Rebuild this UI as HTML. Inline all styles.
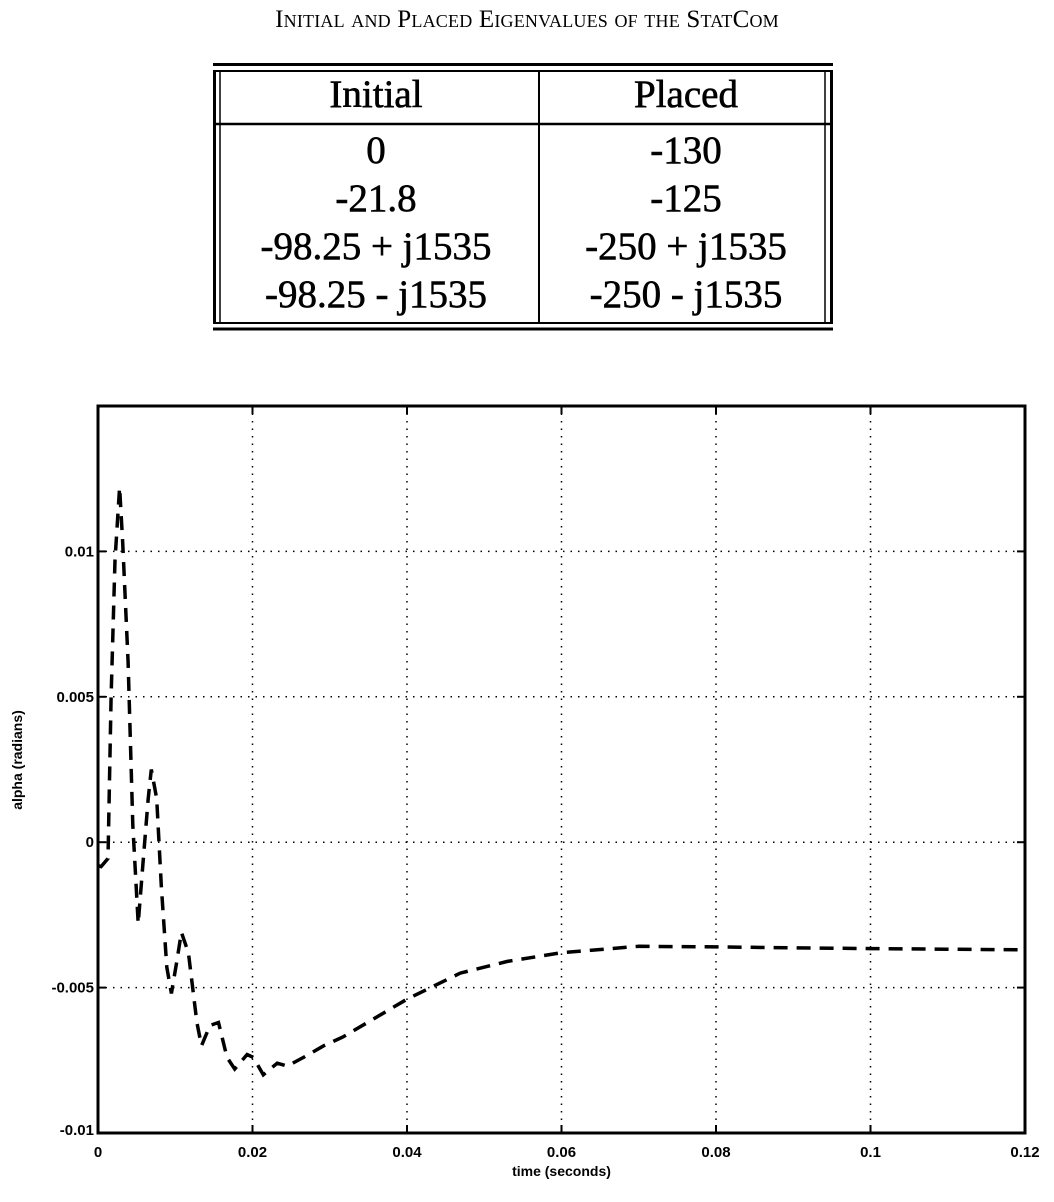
<!DOCTYPE html>
<html><head><meta charset="utf-8"><style>
body{margin:0;width:1054px;height:1202px;background:#fff;position:relative;overflow:hidden;font-family:"Liberation Serif",serif}
#title{position:absolute;top:6px;left:0;width:1054px;text-align:center;font-size:25px;font-variant:small-caps;letter-spacing:0.2px}
#tbl{position:absolute;left:213px;top:63px;width:620px;height:268px}
.cell{position:absolute;text-align:center;font-size:39px;line-height:40px;-webkit-text-stroke:0.6px #000}
</style></head><body>
<div id="title">Initial and Placed Eigenvalues of the StatCom</div>
<div id="tbl">
<svg width="620" height="268" style="position:absolute;left:0;top:0">
<line x1="0" y1="1.5" x2="620" y2="1.5" stroke="#000" stroke-width="3"/>
<line x1="0" y1="8" x2="620" y2="8" stroke="#000" stroke-width="2"/>
<line x1="1.5" y1="8" x2="1.5" y2="260" stroke="#000" stroke-width="3"/>
<line x1="7" y1="8" x2="7" y2="260" stroke="#000" stroke-width="1.5"/>
<line x1="618.5" y1="8" x2="618.5" y2="260" stroke="#000" stroke-width="3"/>
<line x1="612" y1="8" x2="612" y2="260" stroke="#000" stroke-width="1.5"/>
<line x1="326" y1="8" x2="326" y2="260" stroke="#000" stroke-width="2"/>
<line x1="0" y1="61" x2="620" y2="61" stroke="#000" stroke-width="2.5"/>
<line x1="0" y1="260" x2="620" y2="260" stroke="#000" stroke-width="2"/>
<line x1="0" y1="266" x2="620" y2="266" stroke="#000" stroke-width="3"/>
</svg>
<div class="cell" style="left:0;width:326px;top:12px">Initial</div>
<div class="cell" style="left:326px;width:294px;top:12px">Placed</div>
<div class="cell" style="left:0;width:326px;top:64px;line-height:48px">0<br>-21.8<br>-98.25 + j1535<br>-98.25 - j1535</div>
<div class="cell" style="left:326px;width:294px;top:64px;line-height:48px">-130<br>-125<br>-250 + j1535<br>-250 - j1535</div>
</div>
<svg id="chart" width="1054" height="1202" style="position:absolute;left:0;top:0"></svg>
<script>
const xTicks=[0,0.02,0.04,0.06,0.08,0.1,0.12];
const xTickLabels=["0","0.02","0.04","0.06","0.08","0.1","0.12"];
const yTicks=[-0.01,-0.005,0,0.005,0.01];
const yTickLabels=["-0.01","-0.005","0","0.005","0.01"];
const timeVals=[0,0.0004,0.0013,0.0017,0.0022,0.0028,0.0032,0.0039,0.0045,0.0052,0.0058,0.0065,0.0069,0.0076,0.0082,0.0089,0.0095,0.0102,0.0108,0.0117,0.0128,0.0134,0.0145,0.0156,0.0167,0.0177,0.0193,0.0201,0.0214,0.0232,0.0245,0.0266,0.0292,0.0317,0.04,0.0469,0.053,0.06,0.07,0.08,0.09,0.1,0.11,0.12];
const alphaVals=[-0.0008,-0.00084,-0.00056,0.005,0.0097,0.0122,0.0103,0.0062,0.0006,-0.0028,-0.0008,0.0015,0.0025,0.0015,-0.0015,-0.0043,-0.0052,-0.0041,-0.0031,-0.0038,-0.0062,-0.007,-0.0063,-0.0062,-0.0074,-0.0078,-0.0073,-0.0074,-0.008,-0.0076,-0.0077,-0.0074,-0.007,-0.0067,-0.0054,-0.0045,-0.0041,-0.0038,-0.00358,-0.0036,-0.00363,-0.00366,-0.00368,-0.0037];
const L=98,R=1025,T=406,B=1133,x0=0,x1=0.12,y0=-0.01,y1=0.015;
const sx=v=>L+(v-x0)/(x1-x0)*(R-L);
const sy=v=>B-(v-y0)/(y1-y0)*(B-T);
const svg=document.getElementById('chart');
const NS='http://www.w3.org/2000/svg';
function mk(tag,attrs){const e=document.createElementNS(NS,tag);for(const k in attrs)e.setAttribute(k,attrs[k]);svg.appendChild(e);return e;}
xTicks.forEach((t,i)=>{
 if(i>0&&i<xTicks.length-1){const g=mk('line',{x1:sx(t),y1:T,x2:sx(t),y2:B,stroke:'#000','stroke-width':1.5,'stroke-dasharray':'1.5 6'});
 
 }
 mk('line',{x1:sx(t),y1:B,x2:sx(t),y2:B-8,stroke:'#000','stroke-width':2});
 mk('line',{x1:sx(t),y1:T,x2:sx(t),y2:T+8,stroke:'#000','stroke-width':2});
 const tx=mk('text',{x:sx(t),y:B+24,'text-anchor':'middle','font-family':'Liberation Sans, sans-serif','font-size':15,'font-weight':'bold'});
 tx.textContent=xTickLabels[i];
 
 
});
yTicks.forEach((v,i)=>{
 if(i>0){const g=mk('line',{x1:L,y1:sy(v),x2:R,y2:sy(v),stroke:'#000','stroke-width':1.5,'stroke-dasharray':'1.5 6'});
 
 }
 mk('line',{x1:L,y1:sy(v),x2:L+8,y2:sy(v),stroke:'#000','stroke-width':2});
 mk('line',{x1:R,y1:sy(v),x2:R-8,y2:sy(v),stroke:'#000','stroke-width':2});
 const tx=mk('text',{x:L-4,y:sy(v)+(i==0?2:5),'text-anchor':'end','font-family':'Liberation Sans, sans-serif','font-size':15,'font-weight':'bold'});
 tx.textContent=yTickLabels[i];
 
 
});
const frame=mk('rect',{x:L,y:T,width:R-L,height:B-T,fill:'none',stroke:'#000','stroke-width':3});


const pts=timeVals.map((t,i)=>sx(t).toFixed(1)+','+sy(alphaVals[i]).toFixed(1)).join(' ');
const line=mk('polyline',{points:pts,fill:'none',stroke:'#000','stroke-width':3.5,'stroke-dasharray':'14 9'});


const xl=mk('text',{x:(L+R)/2,y:1176,'text-anchor':'middle','font-family':'Liberation Sans, sans-serif','font-size':14,'font-weight':'bold'});
xl.textContent='time (seconds)';


const yl=mk('text',{x:0,y:0,'text-anchor':'middle','font-family':'Liberation Sans, sans-serif','font-size':14,'font-weight':'bold',transform:'translate(22,760) rotate(-90)'});
yl.textContent='alpha (radians)';


</script>
</body></html>
